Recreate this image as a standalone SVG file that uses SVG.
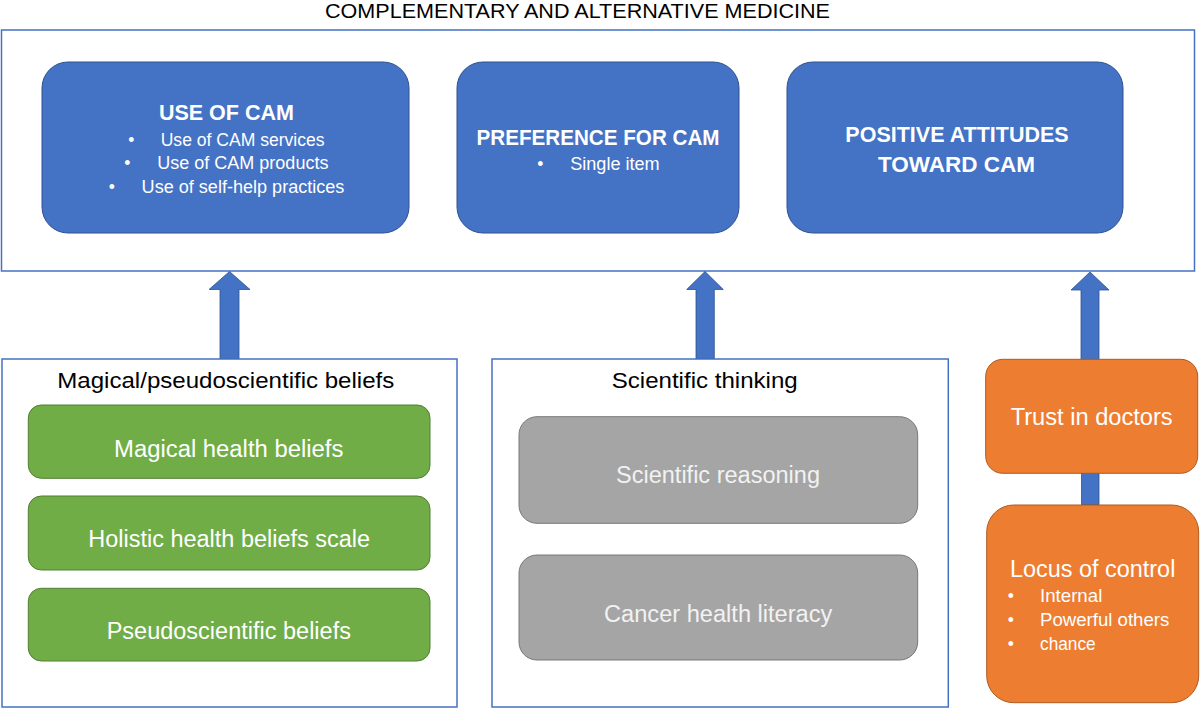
<svg xmlns="http://www.w3.org/2000/svg" width="1200" height="709" viewBox="0 0 1200 709">
<style>
text{font-family:"Liberation Sans",Arial,sans-serif;}
.cont{fill:#ffffff;stroke:#4472C4;stroke-width:1.5;}
.blue{fill:#4472C4;stroke:#2F528F;stroke-width:1;}
.green{fill:#70AD47;stroke:#507E32;stroke-width:1;}
.gray{fill:#A5A5A5;stroke:#787878;stroke-width:1;}
.orange{fill:#ED7D31;stroke:#AE5A21;stroke-width:1;}
.arrow{fill:#4472C4;stroke:#2F528F;stroke-width:0.8;}
.title{font-size:20px;fill:#000;}
.head{font-size:22px;font-weight:bold;fill:#fff;text-anchor:middle;}
.bul{font-size:17.5px;fill:#fff;}
.bm{text-anchor:middle;}
.lab{font-size:22px;fill:#000;text-anchor:middle;}
.wt{font-size:23px;fill:#fff;text-anchor:middle;}
.gt{font-size:23px;fill:#F2F2F2;text-anchor:middle;}
</style>
<rect width="1200" height="709" fill="#ffffff"/>
<text class="title" x="577.5" y="17.5" text-anchor="middle" textLength="505" lengthAdjust="spacingAndGlyphs">COMPLEMENTARY AND ALTERNATIVE MEDICINE</text>
<g id="cam-container">
<rect class="cont" x="1.5" y="30" width="1193" height="241"/>
</g>
<g id="use-of-cam">
<rect class="blue" x="42" y="62" width="367" height="171" rx="26"/>
<text class="head" x="226.4" y="120" textLength="135" lengthAdjust="spacingAndGlyphs">USE OF CAM</text>
<text class="bul bm" x="131.3" y="145.7">•</text>
<text class="bul" x="160.7" y="145.7" textLength="163.8" lengthAdjust="spacingAndGlyphs">Use of CAM services</text>
<text class="bul bm" x="127.4" y="169.3">•</text>
<text class="bul" x="157.3" y="169.3" textLength="171.1" lengthAdjust="spacingAndGlyphs">Use of CAM products</text>
<text class="bul bm" x="111.7" y="193.3">•</text>
<text class="bul" x="141.6" y="193.3" textLength="202.8" lengthAdjust="spacingAndGlyphs">Use of self-help practices</text>
</g>
<g id="preference-for-cam">
<rect class="blue" x="457" y="62" width="282" height="171" rx="26"/>
<text class="head" x="598" y="145" textLength="243" lengthAdjust="spacingAndGlyphs">PREFERENCE FOR CAM</text>
<text class="bul bm" x="540.4" y="169.5">•</text>
<text class="bul" x="570.2" y="169.5" textLength="89.5" lengthAdjust="spacingAndGlyphs">Single item</text>
</g>
<g id="positive-attitudes">
<rect class="blue" x="787" y="62" width="336" height="171" rx="26"/>
<text class="head" x="957" y="141.7" textLength="223.3" lengthAdjust="spacingAndGlyphs">POSITIVE ATTITUDES</text>
<text class="head" x="956.5" y="171.7" textLength="157" lengthAdjust="spacingAndGlyphs">TOWARD CAM</text>
</g>
<g id="connectors">
<path class="arrow" d="M229.5,271.5 L250,289.5 L239,289.5 L239,359 L220,359 L220,289.5 L209,289.5 Z"/>
<path class="arrow" d="M705,271.5 L723.3,289.5 L714.3,289.5 L714.3,359 L696,359 L696,289.5 L686.7,289.5 Z"/>
<path class="arrow" d="M1090,272 L1109,290 L1099,290 L1099,359.5 L1081,359.5 L1081,290 L1071,290 Z"/>
<rect class="arrow" x="1081.5" y="473.3" width="17.5" height="31.7"/>
</g>
<g id="magical-beliefs">
<rect class="cont" x="2" y="359" width="455" height="348"/>
<text class="lab" x="225.8" y="387.7" textLength="337" lengthAdjust="spacingAndGlyphs">Magical/pseudoscientific beliefs</text>
</g>
<g id="magical-health-beliefs">
<rect class="green" x="28.3" y="405" width="401.7" height="73.3" rx="13"/>
<text class="wt" x="228.7" y="456.7" textLength="229.3" lengthAdjust="spacingAndGlyphs">Magical health beliefs</text>
</g>
<g id="holistic-health-beliefs">
<rect class="green" x="28.3" y="496" width="401.7" height="74" rx="13"/>
<text class="wt" x="229.2" y="547.3" textLength="281.7" lengthAdjust="spacingAndGlyphs">Holistic health beliefs scale</text>
</g>
<g id="pseudoscientific-beliefs">
<rect class="green" x="28.3" y="588.3" width="401.7" height="72.7" rx="13"/>
<text class="wt" x="228.8" y="639" textLength="244.3" lengthAdjust="spacingAndGlyphs">Pseudoscientific beliefs</text>
</g>
<g id="scientific-thinking">
<rect class="cont" x="492" y="359" width="456.3" height="348"/>
<text class="lab" x="704.7" y="387.7" textLength="186" lengthAdjust="spacingAndGlyphs">Scientific thinking</text>
</g>
<g id="scientific-reasoning">
<rect class="gray" x="519" y="416.7" width="398.7" height="106.6" rx="18"/>
<text class="gt" x="718" y="483.3" textLength="204" lengthAdjust="spacingAndGlyphs">Scientific reasoning</text>
</g>
<g id="cancer-health-literacy">
<rect class="gray" x="519" y="555" width="398.7" height="105" rx="18"/>
<text class="gt" x="718.2" y="621.7" textLength="228.3" lengthAdjust="spacingAndGlyphs">Cancer health literacy</text>
</g>
<g id="trust-in-doctors">
<rect class="orange" x="985.7" y="359.3" width="212" height="114" rx="17"/>
<text class="wt" x="1091.7" y="425" textLength="162" lengthAdjust="spacingAndGlyphs">Trust in doctors</text>
</g>
<g id="locus-of-control">
<rect class="orange" x="986.7" y="505" width="212" height="197.7" rx="27"/>
<text class="wt" x="1092.7" y="576.7" textLength="165.3" lengthAdjust="spacingAndGlyphs">Locus of control</text>
<text class="bul bm" x="1010.7" y="602.3">•</text>
<text class="bul" x="1040" y="602.3" textLength="62.3" lengthAdjust="spacingAndGlyphs">Internal</text>
<text class="bul bm" x="1010.7" y="625.7">•</text>
<text class="bul" x="1040" y="625.7" textLength="129.3" lengthAdjust="spacingAndGlyphs">Powerful others</text>
<text class="bul bm" x="1010.7" y="650">•</text>
<text class="bul" x="1040" y="650" textLength="55.7" lengthAdjust="spacingAndGlyphs">chance</text>
</g>
</svg>
